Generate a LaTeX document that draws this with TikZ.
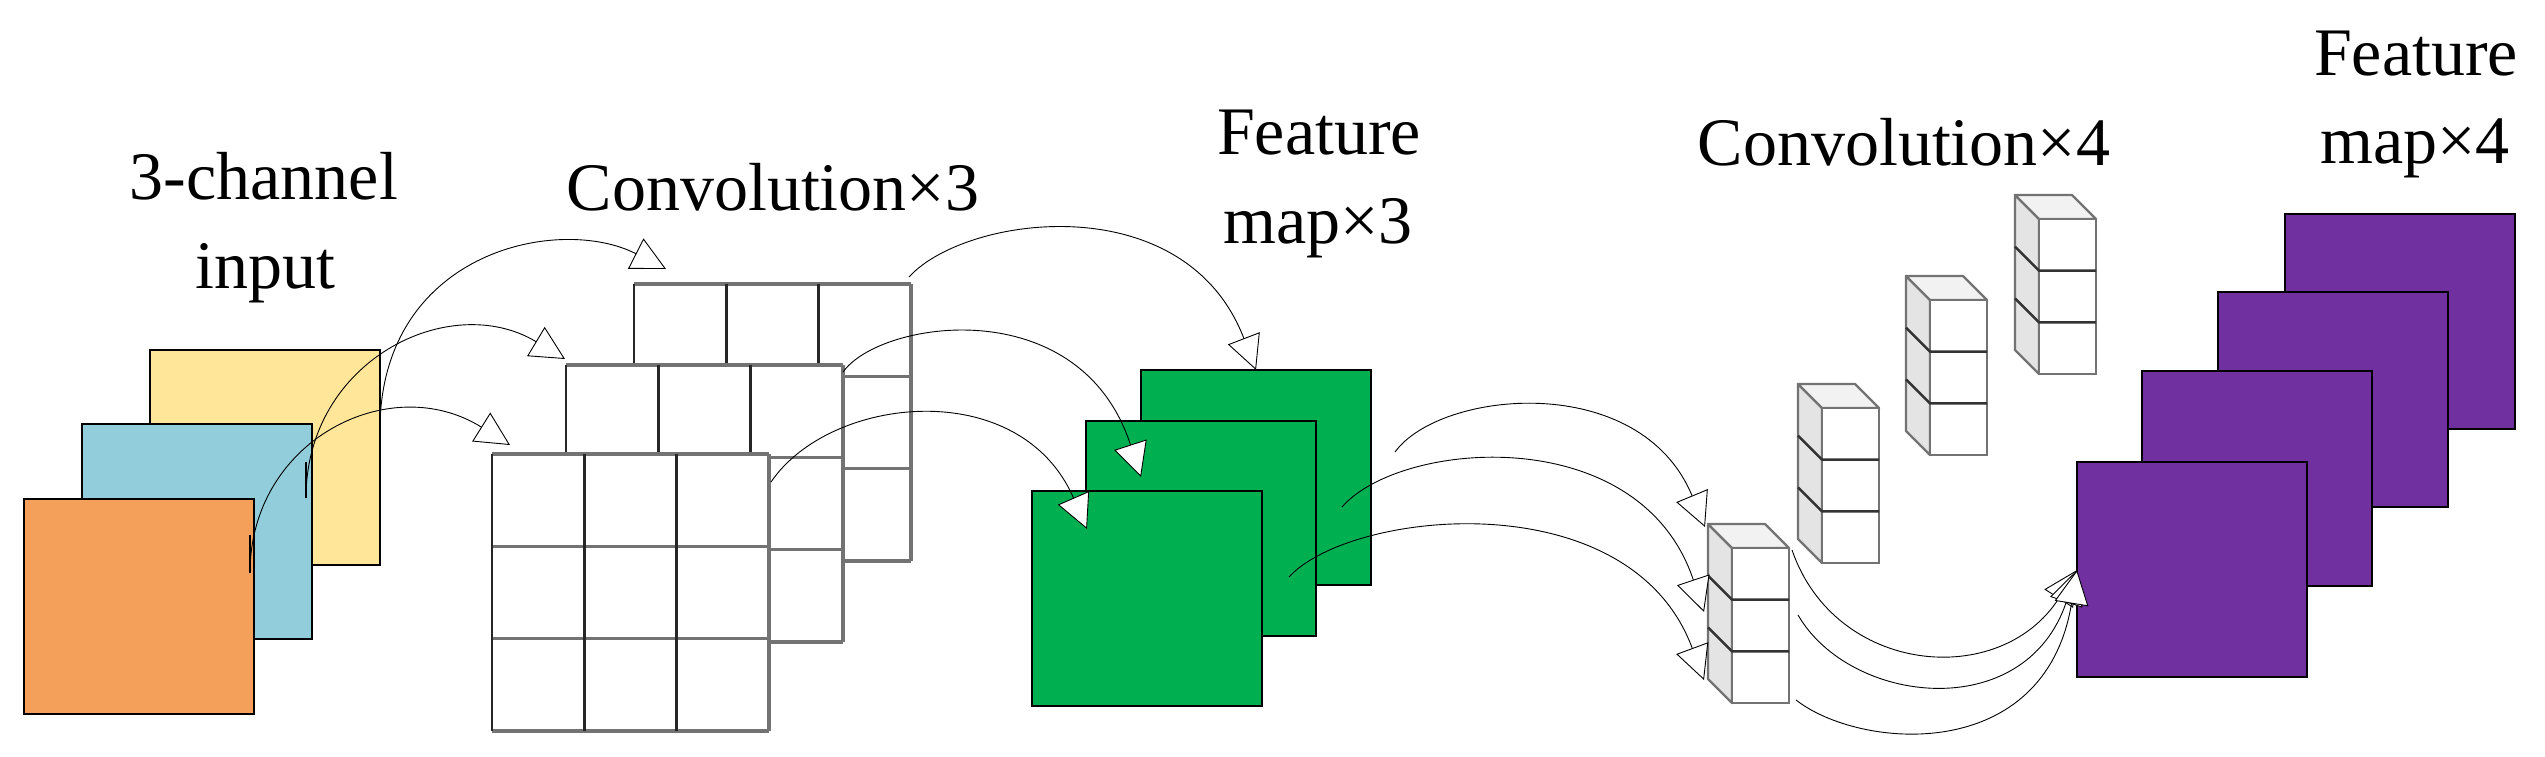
\documentclass[tikz,border=0pt]{standalone}
\usepackage{fontspec}
\setmainfont{Liberation Serif}
\newfontfamily\timesface{Liberation Serif}
\usetikzlibrary{arrows.meta,calc}
\definecolor{inYel}{HTML}{FFE699}
\definecolor{inBlu}{HTML}{92CDDC}
\definecolor{inOrg}{HTML}{F4A05A}
\definecolor{fmGrn}{HTML}{00B050}
\definecolor{fmPur}{HTML}{7030A0}
\definecolor{cubeL}{HTML}{E4E4E4}
\definecolor{cubeT}{HTML}{F2F2F2}
\newcommand\convgrid[3]{%
  \node[gridbg] (#1) at (#2,#3) {};
  \foreach \k in {1,2} {\draw[gh] (#2,#3+\k*92.33) -- (#2+277,#3+\k*92.33);}
  \draw[gh] (#2,#3) -- (#2+277,#3);
  \draw[gh] (#2,#3+277) -- (#2+277,#3+277);
  \draw[gh] (#2+277,#3) -- (#2+277,#3+277);
  \foreach \k in {0,1,2} {\draw[gv] (#2+\k*92.33,#3) -- (#2+\k*92.33,#3+277);}
}
\newcommand\cubecol[3]{%
  \filldraw[cubeedge, fill=cubeL] (#2,#3) -- (#2-24,#3-24) -- (#2-24,#3+131) -- (#2,#3+155) -- cycle;
  \filldraw[cubeedge, fill=cubeT] (#2,#3) -- (#2-24,#3-24) -- (#2+33,#3-24) -- (#2+57,#3) -- cycle;
  \node[cubeface] (#1) at (#2,#3) {};
  \foreach \k in {1,2} {\draw[cubediv] (#2-24,#3-24+\k*51.67) -- (#2,#3+\k*51.67) -- (#2+57,#3+\k*51.67);}
}
\begin{document}
\begin{tikzpicture}[x=1pt,y=-1pt,
  sheet/.style={draw=black, line width=1.1pt, minimum width=230pt, minimum height=215pt, inner sep=0pt, outer sep=0pt, anchor=north west},
  gridbg/.style={fill=white, minimum width=277pt, minimum height=277pt, inner sep=0pt, outer sep=0pt, anchor=north west},
  gv/.style={draw=black!85, line width=2.6pt},
  gh/.style={draw=black!55, line width=3.2pt},
  lbl/.style={font=\timesface\fontsize{68}{80}\selectfont, inner sep=0pt, anchor=base},
  flow/.style={draw=black, line width=0.9pt, -{Triangle[length=34pt,width=34pt,fill=white]}},
  stub/.style={draw=black, line width=1.8pt},
  cubeedge/.style={draw=black!55, line width=2.4pt, line join=round},
  cubediv/.style={draw=black!80, line width=2.4pt},
  cubeface/.style={fill=white, draw=black!55, line width=2.4pt, minimum width=57pt, minimum height=155pt, inner sep=0pt, outer sep=0pt, anchor=north west},
]
\useasboundingbox (0,0) rectangle (2545,756);
\fill[white] (0,0) rectangle (2545,756);

% input channels
\node[sheet, fill=inYel] (yellow) at (150,350) {};
\node[sheet, fill=inBlu] (blue) at (82,424) {};
\node[sheet, fill=inOrg] (orange) at (24,499) {};

% convolution kernels
\convgrid{gB}{634}{284}
\convgrid{gM}{566}{365}
\convgrid{gF}{492}{454}

% feature maps x3
\node[sheet, fill=fmGrn] (grB) at (1141,370) {};
\node[sheet, fill=fmGrn] (grM) at (1086,421) {};
\node[sheet, fill=fmGrn] (grF) at (1032,491) {};

% convolution x4 columns
\cubecol{cb4}{2039}{219}
\cubecol{cb3}{1930}{300}
\cubecol{cb2}{1822}{408}
\cubecol{cb1}{1732}{548}

% feature maps x4
\node[sheet, fill=fmPur] (pB) at (2285,214) {};
\node[sheet, fill=fmPur] (p3) at (2218,292) {};
\node[sheet, fill=fmPur] (p2) at (2142,371) {};
\node[sheet, fill=fmPur] (pF) at (2077,462) {};

% connector end points
\coordinate (s1) at ($(yellow.north east)+(0,73)$);
\coordinate (s2) at ($(blue.north east)+(-6,74)$);
\coordinate (s3) at ($(orange.north east)+(-4,74)$);
\coordinate (t1) at ($(gB.north west)+(32,-15)$);
\coordinate (t2) at ($(gM.north west)+(-1,-6)$);
\coordinate (t3) at ($(gF.north west)+(18,-9)$);

\coordinate (u1) at ($(gB.north east)+(-2,-7)$);
\coordinate (u2) at ($(gM.north east)+(0,7)$);
\coordinate (u3) at ($(gF.north east)+(2,28)$);
\coordinate (v1) at ($(grB.north west)+(115,0)$);
\coordinate (v2) at ($(grM.north west)+(55,56)$);
\coordinate (v3) at ($(grF.north west)+(55,38)$);

\coordinate (w1) at ($(grB.north east)+(24,82)$);
\coordinate (w2) at ($(grM.north east)+(26,86)$);
\coordinate (w3) at ($(grF.north east)+(27,86)$);
\coordinate (x1) at ($(cb1.north west)+(-27,-21)$);
\coordinate (x2) at ($(cb1.north west)+(-28,64)$);
\coordinate (x3) at ($(cb1.north west)+(-28,132)$);

\coordinate (y1) at ($(cb1.north east)+(3,2)$);
\coordinate (y2) at ($(cb1.north east)+(9,67)$);
\coordinate (y3) at ($(cb1.north east)+(7,152)$);
\coordinate (z0) at ($(pF.north west)+(0,108)$);

% connectors: input -> kernels
\draw[stub] (s1) -- ++(0,-21);
\draw[stub] (s2) -- ++(0,-36);
\draw[stub] (s3) -- ++(0,-38);
\draw[flow] (s1) .. controls (385,250) and (560,215) .. (t1);
\draw[flow] (s2) .. controls (306,360) and (450,290) .. (t2);
\draw[flow] (s3) .. controls (250,440) and (390,370) .. (t3);

% kernels -> feature maps
\draw[flow] (u1) .. controls (965,215) and (1185,185) .. (v1);
\draw[flow] (u2) .. controls (880,320) and (1080,290) .. (v2);
\draw[flow] (u3) .. controls (830,395) and (1020,375) .. (v3);

% feature maps -> convolution x4
\draw[flow] (w1) .. controls (1440,390) and (1640,370) .. (x1);
\draw[flow] (w2) .. controls (1400,440) and (1640,420) .. (x2);
\draw[flow] (w3) .. controls (1350,510) and (1630,480) .. (x3);

% convolution x4 -> feature maps x4
\draw[flow] (y1) .. controls (1835,675) and (2000,690) .. (z0);
\draw[flow] (y2) .. controls (1850,705) and (2025,725) .. (z0);
\draw[flow] (y3) .. controls (1860,750) and (2045,765) .. (z0);

% labels
\node[lbl] (lInA) at (264,199) {3-channel};
\node[lbl] (lInB) at (265,288) {input};
\node[lbl] (lCv3) at (773,210) {Convolution×3};
\node[lbl] (lF3a) at (1319,154) {Feature};
\node[lbl] (lF3b) at (1318,243) {map×3};
\node[lbl] (lCv4) at (1904,165) {Convolution×4};
\node[lbl] (lF4a) at (2416,75) {Feature};
\node[lbl] (lF4b) at (2415,163) {map×4};
\end{tikzpicture}
\end{document}
